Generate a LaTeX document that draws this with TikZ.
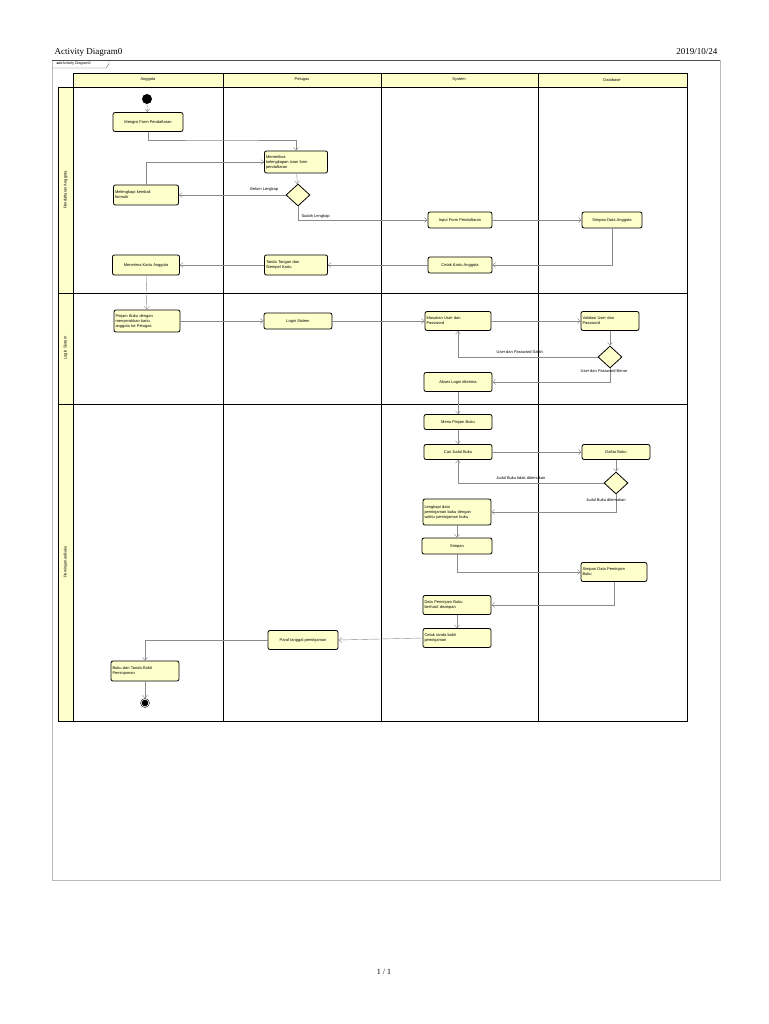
\documentclass[tikz,border=0pt]{standalone}
\usepackage{fontspec}
\setmainfont{Liberation Sans}
\newfontfamily\serifttl{Liberation Serif}
\usetikzlibrary{shapes.geometric,arrows.meta}
\definecolor{ylw}{HTML}{FFFFCC}
\definecolor{lin}{HTML}{8A8A8A}
\begin{document}
\begin{tikzpicture}[x=1pt,y=-1pt,
  act/.style={draw,thick,rounded corners=2pt,fill=ylw,font=\fontsize{4}{5}\selectfont,align=left,inner sep=1.5pt},
  dec/.style={draw,thick,diamond,fill=ylw,minimum width=24pt,minimum height=22pt,inner sep=0pt,aspect=1.1},
  flow/.style={draw=lin,-{Straight Barb[length=3pt,width=5pt]}},
  lbl/.style={font=\fontsize{4}{5}\selectfont},
  hdr/.style={font=\fontsize{4}{5}\selectfont}]
\useasboundingbox (0,0) rectangle (768,1024);
\fill[white] (0,0) rectangle (768,1024);
\node[anchor=west,font=\serifttl\fontsize{9}{10}\selectfont] (ttl) at (51,52) {Activity Diagram0};
\node[anchor=east,font=\serifttl\fontsize{9}{10}\selectfont] (dt) at (721,52) {2019/10/24};
\node[font=\serifttl\fontsize{8}{9}\selectfont] (pg) at (384,972) {1 / 1};
% frame
\draw[lin!60] (52,60) rectangle (720,880);
\draw[black!70] (52,60) -- (720,60);
\draw[black!60] (52,68) -- (106,68) -- (109,64) -- (109,60);
\node[anchor=west,font=\fontsize{3.6}{4}\selectfont] (tab) at (53,64) {\textbf{act} Activity Diagram0};
% swimlanes
\fill[ylw] (73,73) rectangle (687,87);
\fill[ylw] (58,87) rectangle (73,721);
\draw[thick] (73,73) rectangle (687,721);
\draw[thick] (58,87) rectangle (73,721);
\draw[thick] (73,87) -- (687,87);
\foreach \xx in {223,381,538} \draw[thick] (\xx,73) -- (\xx,721);
\draw[thick] (58,293) -- (687,293);
\draw[thick] (58,404) -- (687,404);
\node[hdr] (h1) at (148,80) {Anggota};
\node[hdr] (h2) at (302,80) {Petugas};
\node[hdr] (h3) at (459,80) {System};
\node[hdr] (h4) at (612,80) {Database};
\node[hdr,rotate=90] (r1) at (65.5,190) {Pendaftaran Anggota};
\node[hdr,rotate=90] (r2) at (65.5,348) {Login Sistem};
\node[hdr,rotate=90] (r3) at (65.5,562) {PeminjamanBuku};
% nodes
\fill (147,99) circle (5);
\coordinate (st) at (147,104);
\node[act,minimum width=70pt,minimum height=19pt] (a1) at (148,122) {Mengisi Form Pendaftaran};
\node[act,text width=60pt,minimum height=22pt] (a2) at (296,162) {Memeriksa\\kelengkapan isian form\\pendaftaran};
\node[dec] (d1) at (298,195) {};
\node[act,text width=62pt,minimum height=20pt] (a3) at (146,195) {Melengkapi kembali\\formulir};
\node[act,minimum width=64pt,minimum height=16pt] (a4) at (460,220) {Input Form Pendaftaran};
\node[act,minimum width=60pt,minimum height=16pt] (a5) at (612,220) {Simpan Data Anggota};
\node[act,minimum width=64pt,minimum height=16pt] (a6) at (460,265) {Cetak Kartu Anggota};
\node[act,text width=60pt,minimum height=20pt] (a7) at (296,265) {Tanda Tangan dan\\Stempel Kartu};
\node[act,minimum width=67pt,minimum height=20pt] (a8) at (146,265) {Menerima Kartu Anggota};
\node[act,text width=63pt,minimum height=22pt] (b1) at (147,321) {Pinjam Buku dengan\\menyerahkan kartu\\anggota ke Petugas};
\node[act,minimum width=68pt,minimum height=16pt] (b2) at (298,321) {Login Sistem};
\node[act,text width=63pt,minimum height=19pt] (b3) at (458,321) {Masukan User dan\\Password};
\node[act,text width=55pt,minimum height=19pt] (b4) at (610,321) {Validasi User dan\\Password};
\node[dec] (d2) at (610,357) {};
\node[act,minimum width=68pt,minimum height=19pt] (b5) at (458,382) {Akses Login diterima};
\node[act,minimum width=68pt,minimum height=15pt] (c1) at (458,422) {Menu Pinjam Buku};
\node[act,minimum width=68pt,minimum height=15pt] (c2) at (458,452) {Cari Judul Buku};
\node[act,minimum width=68pt,minimum height=15pt] (c3) at (616,452) {Daftar Buku};
\node[dec] (d3) at (616,483) {};
\node[act,text width=65pt,minimum height=26pt] (c4) at (457,512) {Lengkapi data\\peminjaman buku dengan\\waktu peminjaman buku};
\node[act,minimum width=70pt,minimum height=16pt] (c5) at (457,546) {Simpan};
\node[act,text width=63pt,minimum height=19pt] (c6) at (614,572) {Simpan Data Peminjam\\Buku};
\node[act,text width=65pt,minimum height=19pt] (c7) at (457,605) {Data Peminjam Buku\\berhasil disimpan};
\node[act,text width=65pt,minimum height=19pt] (c8) at (457,638) {Cetak tanda bukti\\peminjaman};
\node[act,minimum width=70pt,minimum height=19pt] (c9) at (303,640) {Paraf tanggal peminjaman};
\node[act,text width=65pt,minimum height=20pt] (c10) at (145,671) {Buku dan Tanda Bukti\\Peminjaman};
\draw (145,703) circle (4.5);
\fill (145,703) circle (3.3);
\coordinate (en) at (145,698.5);
% edges
\draw[flow] (st) -- (a1);
\draw[flow] (a1.south) |- (222,140) -| (a2.north);
\draw[flow] (a3.north) |- (a2.west);
\draw[flow] (a2) -- (d1);
\draw[flow] (d1.west) -- (a3.east) node[lbl,pos=0.2,above] {Belum Lengkap};
\draw[flow] (d1.south) |- (a4.west) node[lbl,pos=0.3,right,yshift=-2pt] {Sudah Lengkap};
\draw[flow] (a4) -- (a5);
\draw[flow] (a5.south) |- (a6.east);
\draw[flow] (a6) -- (a7);
\draw[flow] (a7) -- (a8);
\draw[flow] (a8) -- (b1);
\draw[flow] (b1) -- (b2);
\draw[flow] (b2) -- (b3);
\draw[flow] (b3) -- (b4);
\draw[flow] (b4) -- (d2);
\draw[flow] (d2.west) -| (b3.south) node[lbl,pos=0.25,above,xshift=-8pt] {User dan Password Salah};
\draw[flow] (d2.south) |- (b5.east) node[lbl,pos=0.3,above,xshift=-6pt] {User dan Password Benar};
\draw[flow] (b5) -- (c1);
\draw[flow] (c1) -- (c2);
\draw[flow] (c2) -- (c3);
\draw[flow] (c3) -- (d3);
\draw[flow] (d3.west) -| (c2.south) node[lbl,pos=0.25,above,xshift=-10pt] {Judul Buku tidak ditemukan};
\draw[flow] (d3.south) |- (c4.east) node[lbl,pos=0.3,above,xshift=-10pt] {Judul Buku ditemukan};
\draw[flow] (c4) -- (c5);
\draw[flow] (c5.south) |- (c6.west);
\draw[flow] (c6.south) |- (c7.east);
\draw[flow] (c7) -- (c8);
\draw[flow] (c8.west) -- (c9.east);
\draw[flow] (c9.west) -| (c10.north);
\draw[flow] (c10) -- (en);
\end{tikzpicture}
\end{document}
